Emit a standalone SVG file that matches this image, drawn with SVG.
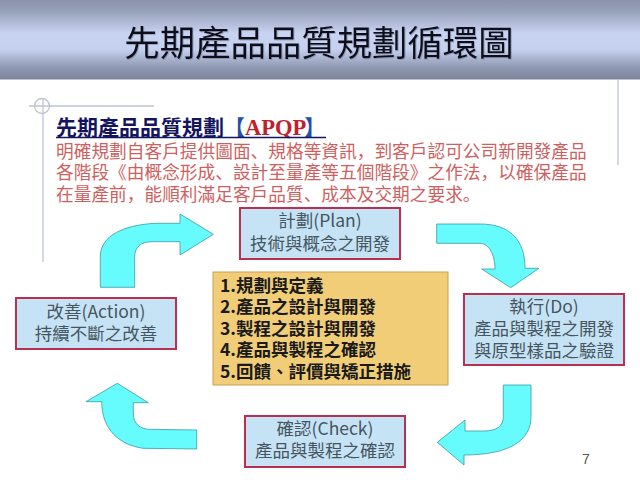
<svg xmlns="http://www.w3.org/2000/svg" width="640" height="480" viewBox="0 0 640 480">
<style>
text{font-family:"Noto Sans CJK TC","Noto Sans CJK SC",sans-serif}
.box{fill:#c5e3f5;stroke:#b8304f;stroke-width:2}
.lbl{font-size:17.5px;fill:#46555f;text-anchor:middle}
.arr{fill:#66fbfd;stroke:#3a9aa5;stroke-width:.8}
.body{font-size:17.7px;fill:#cf5f5e;font-family:"Noto Sans CJK SC","Noto Sans CJK TC",sans-serif}
.list{font-size:17.5px;font-weight:700;fill:#1a1a1a}
.deco{fill:none;stroke:#bcc4d4;stroke-width:1.300}
</style>
<defs>
<linearGradient id="hdr" x1="0" y1="0" x2="0" y2="1">
<stop offset="0" stop-color="#8b93ac"/><stop offset=".13" stop-color="#969fb8"/><stop offset=".42" stop-color="#c8d3f2"/><stop offset=".62" stop-color="#c6d1ef"/><stop offset=".85" stop-color="#8f98b2"/><stop offset="1" stop-color="#7d8499"/>
</linearGradient>
<filter id="sh" x="-5%" y="-20%" width="110%" height="140%"><feDropShadow dx=".8" dy=".8" stdDeviation=".4" flood-color="#6a7388" flood-opacity=".6"/></filter>
</defs>
<rect width="640" height="480" fill="#fff"/>
<g id="header">
<rect width="640" height="79.500" fill="url(#hdr)"/>
<text x="319" y="56" font-size="35.400" text-anchor="middle" fill="#0c0f1c" filter="url(#sh)">先期產品品質規劃循環圖</text>
</g>
<g id="decor">
<path class="deco" d="M29 106H154M43 98V262M618 80V165"/>
<circle class="deco" cx="42" cy="106" r="7.500"/>
</g>
<g id="intro">
<text x="56" y="135" font-size="21px" font-weight="700" fill="#14145f">先期產品品質規劃<tspan fill="#1f4fa8">【</tspan><tspan fill="#c0202a" font-size="22.500" font-family="Liberation Serif,serif">APQP</tspan><tspan fill="#1f4fa8" dx="-2">】</tspan></text>
<path d="M56 137.500H326" stroke="#14145f" stroke-width="1.500"/>
<text class="body" x="56" y="158">明確規劃自客戶提供圖面、規格等資訊，到客戶認可公司新開發產品</text>
<text class="body" x="56" y="179">各階段《由概念形成、設計至量產等五個階段》之作法，以確保產品</text>
<text class="body" x="56" y="201">在量產前，能順利滿足客戶品質、成本及交期之要求。</text>
</g>
<g id="connectors">
<path class="arr" d="M100.300 287.300H134.700V256.700C134.700 247 141 241.700 152 241.700H180V255L213.300 234.300L180 214V223.300H155C125 225 100.300 235 100.300 256.700Z"/>
<path class="arr" d="M436.700 224V243.300H480C489 243.300 495 255 495 269H481.700L510.700 287.700L539 268.300H525C525 240 510 224 480 224Z"/>
<path class="arr" d="M503.300 385H531V416.700C531 440 510 455 464 455V465L437.300 442.300L465 420V431H483.300C497 431 503.300 426 503.300 416.700Z"/>
<path class="arr" d="M196.700 430V449L143 448.300C120 445 101.700 430 101.700 401.700H86L117.300 383.300L148.300 402.700H133.300V413C133.300 424 140 429.300 150 429.300Z"/>
</g>
<g id="plan">
<rect class="box" x="240" y="208" width="160" height="51"/>
<text class="lbl" x="320" y="227">計劃(Plan)</text>
<text class="lbl" x="320" y="250">技術與概念之開發</text>
</g>
<g id="do">
<rect class="box" x="464" y="294" width="160" height="71"/>
<text class="lbl" x="544" y="313">執行(Do)</text>
<text class="lbl" x="544" y="335">產品與製程之開發</text>
<text class="lbl" x="544" y="357">與原型樣品之驗證</text>
</g>
<g id="check">
<rect class="box" x="245" y="416" width="160" height="51"/>
<text class="lbl" x="325" y="435">確認(Check)</text>
<text class="lbl" x="325" y="457">產品與製程之確認</text>
</g>
<g id="action">
<rect class="box" x="16" y="298" width="160" height="51"/>
<text class="lbl" x="96" y="318">改善(Action)</text>
<text class="lbl" x="96" y="340">持續不斷之改善</text>
</g>
<g id="steps">
<rect x="213" y="272" width="235" height="113" fill="#f2cd78" stroke="#c9a058" stroke-width="1"/>
<text class="list" x="220" y="292">1.規劃與定義</text>
<text class="list" x="220" y="313">2.產品之設計與開發</text>
<text class="list" x="220" y="335">3.製程之設計與開發</text>
<text class="list" x="220" y="356">4.產品與製程之確認</text>
<text class="list" x="220" y="378">5.回饋、評價與矯正措施</text>
</g>
<text x="582" y="464" font-size="14px" fill="#555" style="font-family:'Liberation Sans',sans-serif">7</text>
</svg>
